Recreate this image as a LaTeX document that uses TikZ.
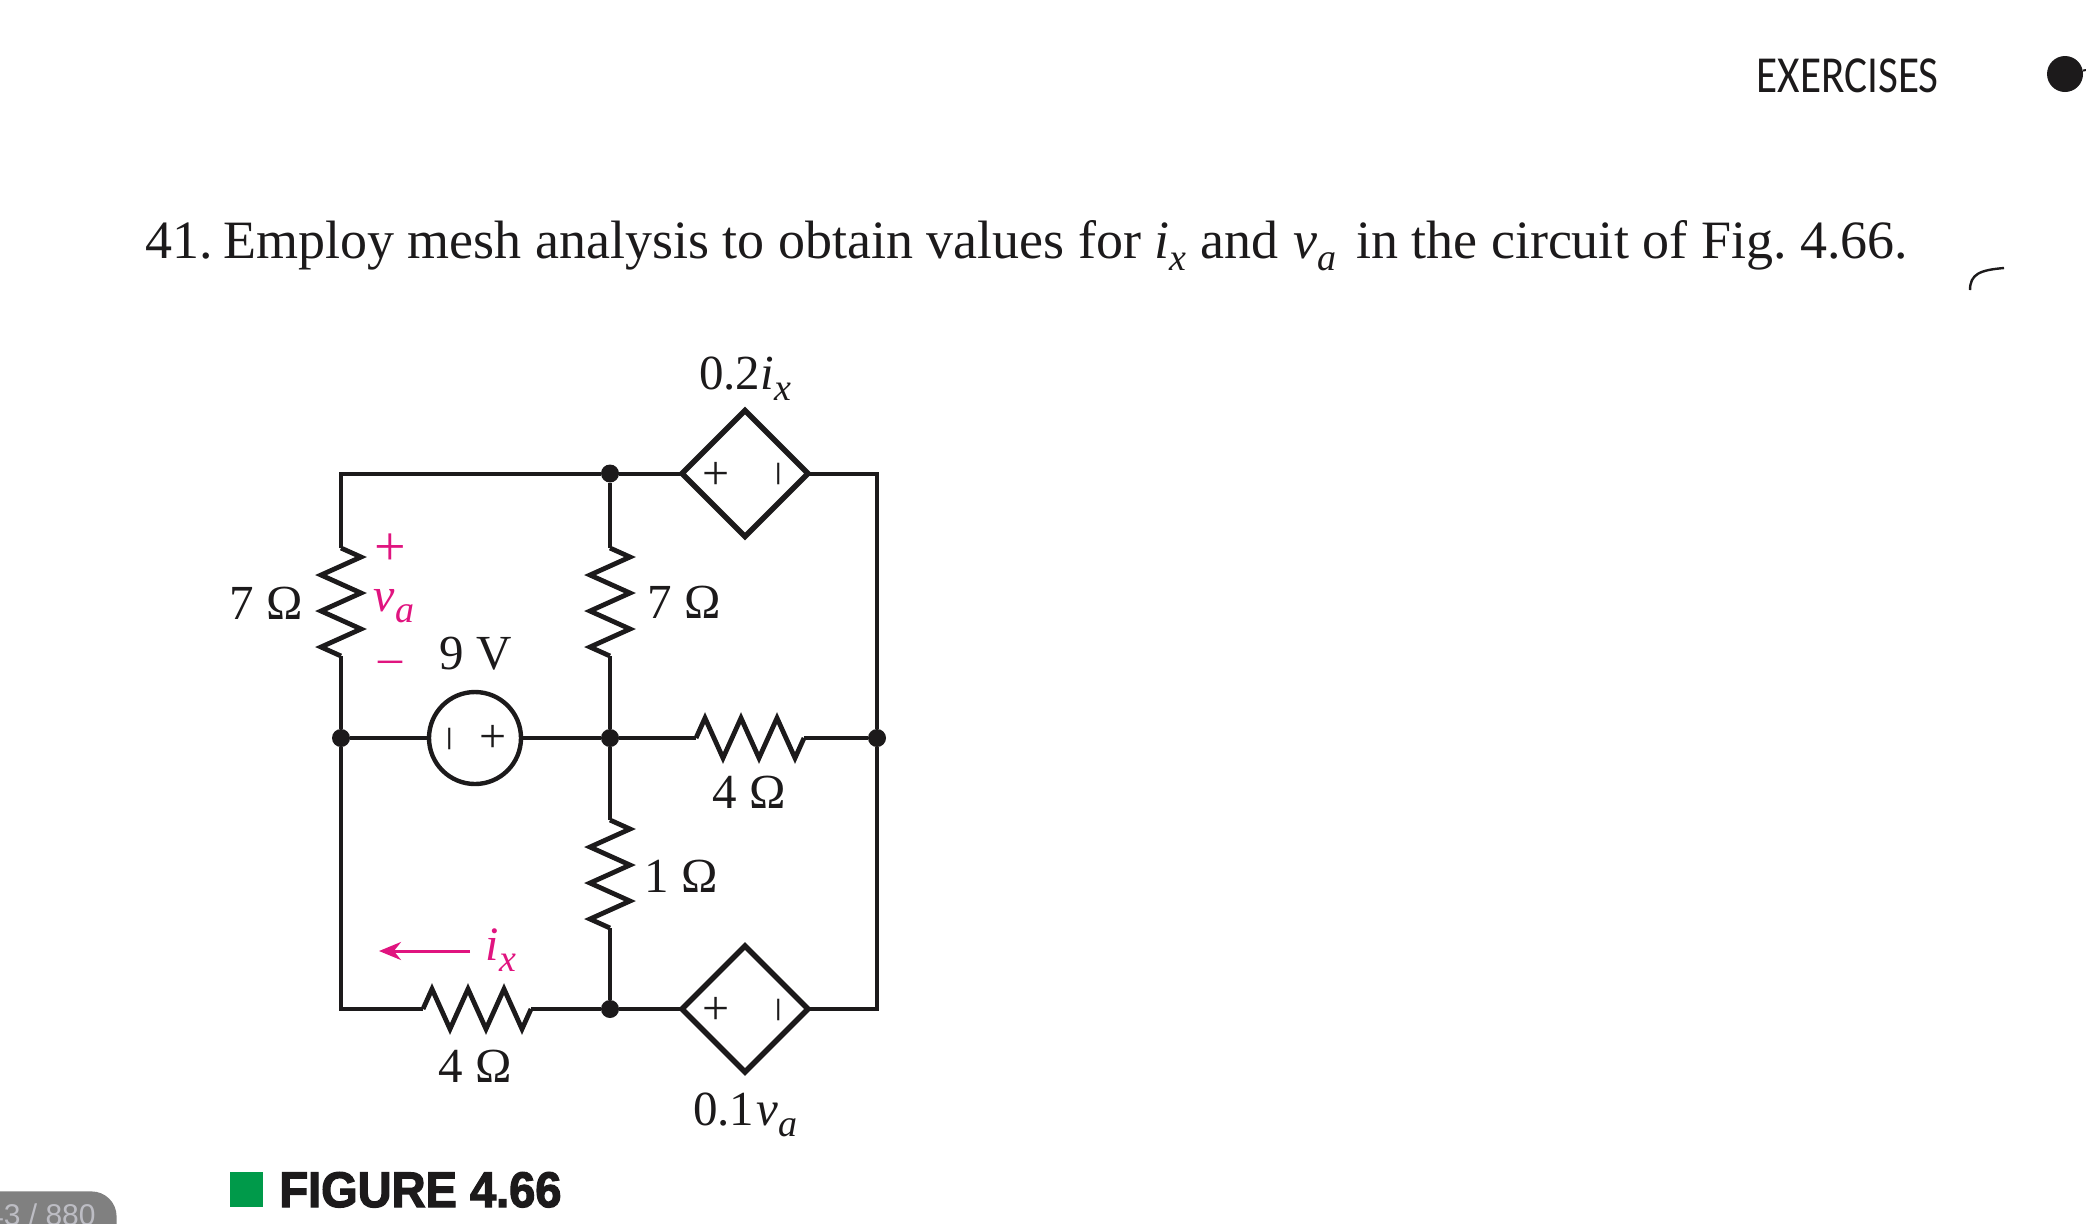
\documentclass[tikz,border=0pt]{standalone}
\usepackage{fontspec}
\setmainfont{Liberation Serif}
\newfontfamily\headfont[FakeStretch=.83]{Carlito}
\newfontfamily\figfont[FakeStretch=.94,FakeBold=2.5]{Liberation Sans Bold}
\newfontfamily\pagefont{Liberation Sans}
\usetikzlibrary{shapes.geometric}
\usetikzlibrary{arrows.meta}
\usetikzlibrary{decorations.pathmorphing}
\definecolor{inkblack}{HTML}{1C1A1B}
\definecolor{polmagenta}{HTML}{E0147F}
\definecolor{figgreen}{HTML}{009A4A}
\definecolor{pillgray}{HTML}{808080}
\definecolor{pilltext}{HTML}{BDBDC4}
\newcommand{\subvar}[2]{\textit{#1}\raisebox{-.24em}{\fontsize{19}{19}\selectfont\textit{#2}}}
\frenchspacing
\tikzset{
	wire/.style={draw=inkblack, line width=2pt, line join=miter},
	res/.style={wire, line width=2.4pt, decorate, decoration={zigzag, segment length=18pt, amplitude=10pt}},
	junction/.style={circle, fill=inkblack, inner sep=0pt, minimum size=9pt},
	vsource/.style={circle, draw=inkblack, line width=2.2pt, inner sep=0pt, outer sep=0pt, minimum size=46pt},
	depsource/.style={diamond, draw=inkblack, line width=2.7pt, inner sep=0pt, outer sep=0pt, aspect=1, minimum size=63pt},
	lbl/.style={text=inkblack, font=\fontsize{24.5}{28}\selectfont, inner sep=0pt},
	pol/.style={text=polmagenta, font=\fontsize{24}{28}\selectfont, inner sep=0pt},
	sign/.style={text=inkblack, font=\fontsize{24}{26}\selectfont, inner sep=0pt},
	signbar/.style={text=inkblack, font=\fontsize{21}{26}\selectfont, inner sep=0pt}
}
\begin{document}
\begin{tikzpicture}[x=.5pt, y=-.5pt]
	\useasboundingbox (0,0) rectangle (2086,1223);
	% page furniture
	\node[text=inkblack, inner sep=0pt, anchor=base east, font=\fontsize{26}{30}\headfont] (head) at (1939,92) {EXERCISES};
	\node[circle, fill=inkblack, inner sep=0pt, minimum size=18pt] (headdot) at (2065,74) {};
	\coordinate (tailend) at (2086,70);
	\draw[inkblack, line width=1pt] (headdot) -- (tailend);
	\node[text=inkblack, inner sep=0pt, anchor=base west, font=\fontsize{27}{32}\selectfont] (num) at (145,258) {41.};
	\node[text=inkblack, inner sep=0pt, anchor=base west, font=\fontsize{27}{32}\selectfont] (task) at (223,258) {Employ mesh analysis to obtain values for \subvar{i}{x} and \hspace{1pt}\subvar{v}{a}\hspace{3pt} in the circuit of Fig. 4.66.};
	\draw[inkblack, line width=1.2pt] (1970,290) .. controls (1970,274) and (1980,270) .. (2004,268);
	% junctions and corners
	\node[junction] (ntop) at (610,473.5) {};
	\node[junction] (nleft) at (341,738) {};
	\node[junction] (ncen) at (610,738) {};
	\node[junction] (nright) at (877,738) {};
	\node[junction] (nbot) at (610,1009) {};
	\coordinate (ctl) at (341,473.5);
	\coordinate (ctr) at (877,473.5);
	\coordinate (cbl) at (341,1009);
	\coordinate (cbr) at (877,1009);
	% resistor ends
	\coordinate (rla) at (341,548);
	\coordinate (rlb) at (341,656);
	\coordinate (rca) at (610,548);
	\coordinate (rcb) at (610,656);
	\coordinate (rma) at (696,738);
	\coordinate (rmb) at (804,738);
	\coordinate (rda) at (610,820);
	\coordinate (rdb) at (610,928);
	\coordinate (rba) at (423,1009);
	\coordinate (rbb) at (531,1009);
	% sources
	\node[vsource] (vs) at (475,738) {};
	\node[depsource] (dtop) at (745,473.5) {};
	\node[depsource] (dbot) at (745,1009) {};
	\node[signbar] (vsminus) at (454,739) {\rotatebox{90}{--}};
	\node[sign] (vsplus) at (493,739) {+};
	\node[sign] (dtplus) at (716,475.5) {+};
	\node[signbar] (dtminus) at (783,474) {\rotatebox{90}{--}};
	\node[sign] (dbplus) at (716,1011) {+};
	\node[signbar] (dbminus) at (783,1009.5) {\rotatebox{90}{--}};
	% wires
	\draw[wire] (rla) -- (ctl) -- (ntop);
	\draw[wire] (ntop) -- (dtop);
	\draw[wire] (dtop) -- (ctr) -- (nright);
	\draw[wire] (nright) -- (cbr) -- (dbot);
	\draw[wire] (rlb) -- (nleft);
	\draw[wire] (nleft) -- (cbl) -- (rba);
	\draw[wire] (rbb) -- (nbot);
	\draw[wire] (nbot) -- (dbot);
	\draw[wire] (nleft) -- (vs);
	\draw[wire] (vs) -- (ncen);
	\draw[wire] (ntop) -- (rca);
	\draw[wire] (rcb) -- (ncen);
	\draw[wire] (ncen) -- (rma);
	\draw[wire] (rmb) -- (nright);
	\draw[wire] (ncen) -- (rda);
	\draw[wire] (rdb) -- (nbot);
	% resistors
	\draw[res] (rla) -- (rlb);
	\draw[res] (rca) -- (rcb);
	\draw[res] (rma) -- (rmb);
	\draw[res] (rda) -- (rdb);
	\draw[res] (rba) -- (rbb);
	% labels
	\node[lbl] (lrl) at (266,603) {7 Ω};
	\node[lbl] (lrc) at (684,602) {7 Ω};
	\node[lbl] (lrm) at (749,792) {4 Ω};
	\node[lbl] (lrd) at (681,876) {1 Ω};
	\node[lbl] (lrb) at (475,1066) {4 Ω};
	\node[lbl] (lvs) at (476,654) {9 V};
	\node[lbl, anchor=base] (ldt) at (745,389) {0.2\subvar{i}{x}};
	\node[lbl, anchor=base] (ldb) at (745,1125) {0.1\hspace{1pt}\subvar{v}{a}};
	% polarity and current
	\node[pol, font=\fontsize{28}{28}\selectfont] (vaplus) at (390,550) {+};
	\node[pol, anchor=base] (vava) at (394,611) {\subvar{v}{a}};
	\node[pol] (vaminus) at (390,667) {--};
	\node[pol, anchor=base] (ixlbl) at (501,960) {\subvar{i}{x}};
	\coordinate (ixa) at (470,951);
	\coordinate (ixb) at (379,951);
	\draw[polmagenta, line width=1.5pt, -{Stealth[length=11pt, width=9pt]}] (ixa) -- (ixb);
	% caption
	\node[fill=figgreen, inner sep=0pt, minimum width=16.5pt, minimum height=17.5pt] (figbox) at (246.5,1189.5) {};
	\node[text=inkblack, inner sep=0pt, anchor=base west, font=\fontsize{25}{30}\figfont] (figcap) at (279,1207) {FIGURE 4.66};
	\node[fill=pillgray, rounded corners=12.5pt, inner sep=0pt, minimum width=80pt, minimum height=40pt, anchor=north east] (pill) at (117,1191) {};
	\node[text=pilltext, inner sep=0pt, anchor=base east, font=\fontsize{15}{20}\pagefont] (pagenum) at (96,1225) {43 / 880};
\end{tikzpicture}
\end{document}
